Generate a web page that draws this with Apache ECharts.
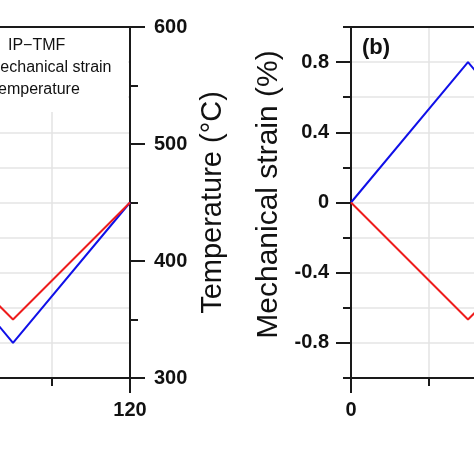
<!DOCTYPE html>
<html>
<head>
<meta charset="utf-8">
<script src="https://cdn.jsdelivr.net/npm/echarts@6/dist/echarts.min.js"></script>
<style>
html,body{margin:0;padding:0;background:#fff;}
#chart{width:474px;height:474px;}
</style>
</head>
<body>
<div id="chart"></div>
<script>
// Time points of one cycle (s)
var timePts = [0, 30, 90, 120];
// Panel (a) IP-TMF
var strainA = [0, 0.8, -0.8, 0];
var tempA = [450, 550, 350, 450];
// Panel (b) OP-TMF
var strainB = [0, 0.8, -0.8, 0];
var tempB = [450, 350, 550, 450];
// Tick label values
var strainMajor = [-0.8, -0.4, 0, 0.4, 0.8];
var legendTitle = 'IP\u2212TMF';
var legendItems = ['Mechanical strain', 'Temperature'];

function pairs(xs, ys){ return xs.map(function(x,i){ return [x, ys[i]]; }); }

var FONT = 'Liberation Sans, Arial, sans-serif';
var AX = '#1a1a1a';
var GRID = '#e4e4e4';
var labelStyle = {color:'#111', fontSize:20, fontWeight:'bold', fontFamily:FONT};

function xBottom(gi){
  return {type:'value', gridIndex:gi, position:'bottom', min:0, max:120, interval:40,
    axisLine:{show:true, onZero:false, lineStyle:{color:AX, width:2}},
    axisTick:{show:true, inside:false, length:15, lineStyle:{color:AX, width:2}},
    minorTick:{show:true, splitNumber:2, length:8, lineStyle:{color:AX, width:2}},
    axisLabel:Object.assign({margin:22}, labelStyle),
    splitLine:{show:true, lineStyle:{color:GRID, width:1.5}},
    minorSplitLine:{show:true, lineStyle:{color:GRID, width:1.5}}};
}
function xTop(gi){
  return {type:'value', gridIndex:gi, position:'top', min:0, max:120,
    axisLine:{show:true, onZero:false, lineStyle:{color:AX, width:2}},
    axisTick:{show:false}, axisLabel:{show:false}, splitLine:{show:false}};
}

var chart = echarts.init(document.getElementById('chart'));
chart.setOption({
  animation:false,
  backgroundColor:'#fff',
  grid:[
    {left:-338, top:27, width:468, height:351, containLabel:false, outerBoundsMode:'none'},
    {left:351, top:27, width:468, height:351, containLabel:false, outerBoundsMode:'none'}
  ],
  xAxis:[xBottom(0), xTop(0), xBottom(1), xTop(1)],
  yAxis:[
    {type:'value', gridIndex:0, position:'left', min:-1, max:1, interval:0.2,
      axisLine:{show:true, onZero:false, lineStyle:{color:AX, width:2}},
      axisTick:{show:false}, axisLabel:{show:false},
      splitLine:{show:true, lineStyle:{color:GRID, width:1.5}}},
    {type:'value', gridIndex:0, position:'right', min:300, max:600, interval:100,
      axisLine:{show:true, onZero:false, lineStyle:{color:AX, width:2}},
      axisTick:{show:true, inside:false, length:15, lineStyle:{color:AX, width:2}},
      minorTick:{show:true, splitNumber:2, length:8, lineStyle:{color:AX, width:2}},
      axisLabel:Object.assign({margin:24}, labelStyle),
      splitLine:{show:false},
      name:'Temperature (\u00B0C)', nameLocation:'middle', nameRotate:90, nameGap:66,
      nameTextStyle:{fontSize:29, color:'#111', fontFamily:FONT}},
    {type:'value', gridIndex:1, position:'left', min:-1, max:1, interval:0.2,
      axisLine:{show:true, onZero:false, lineStyle:{color:AX, width:2}},
      axisTick:{show:true, inside:false, length:8, lineStyle:{color:AX, width:2}},
      axisLabel:Object.assign({margin:22, formatter:function(v){
        var k = Math.round(v*10);
        if (Math.abs(k) % 4 !== 0) return '';
        return k === 0 ? '0' : (k/10).toFixed(1);
      }}, labelStyle),
      splitLine:{show:true, lineStyle:{color:GRID, width:1.5}},
      name:'Mechanical strain (%)', nameLocation:'middle', nameRotate:90, nameGap:64,
      nameTextStyle:{fontSize:30, color:'#111', fontFamily:FONT, padding:[0,0,0,16]}},
    {type:'value', gridIndex:1, position:'left', min:-1, max:1, interval:0.2,
      axisLine:{show:false},
      axisTick:{show:true, inside:false, length:15, customValues:strainMajor, lineStyle:{color:AX, width:2}},
      axisLabel:{show:false}, splitLine:{show:false}},
    {type:'value', gridIndex:1, position:'right', min:300, max:600, interval:100,
      axisLine:{show:true, onZero:false, lineStyle:{color:AX, width:2}},
      axisTick:{show:false}, axisLabel:{show:false}, splitLine:{show:false}}
  ],
  series:[
    {type:'line', xAxisIndex:0, yAxisIndex:0, data:pairs(timePts, strainA), symbol:'none',
      lineStyle:{color:'#1010e8', width:2}, z:3},
    {type:'line', xAxisIndex:0, yAxisIndex:1, data:pairs(timePts, tempA), symbol:'none',
      lineStyle:{color:'#ee1c1c', width:2}, z:3},
    {type:'line', xAxisIndex:2, yAxisIndex:2, data:pairs(timePts, strainB), symbol:'none',
      lineStyle:{color:'#1010e8', width:2}, z:3},
    {type:'line', xAxisIndex:2, yAxisIndex:4, data:pairs(timePts, tempB), symbol:'none',
      lineStyle:{color:'#ee1c1c', width:2}, z:3}
  ],
  graphic:[
    {type:'rect', shape:{x:0, y:28, width:128, height:84}, style:{fill:'#fff'}, z:1},
    {type:'text', left:8, top:38, style:{text:legendTitle, fontSize:16, fill:'#111', fontFamily:FONT}, z:5},
    {type:'text', left:-13, top:60, style:{text:legendItems[0], fontSize:16, fill:'#111', fontFamily:FONT}, z:5},
    {type:'text', left:-10, top:82, style:{text:legendItems[1], fontSize:16, fill:'#111', fontFamily:FONT}, z:5},
    {type:'text', left:362, top:37, style:{text:'(b)', fontSize:22, fontWeight:'bold', fill:'#111', fontFamily:FONT}, z:5}
  ]
});
</script>
</body>
</html>
